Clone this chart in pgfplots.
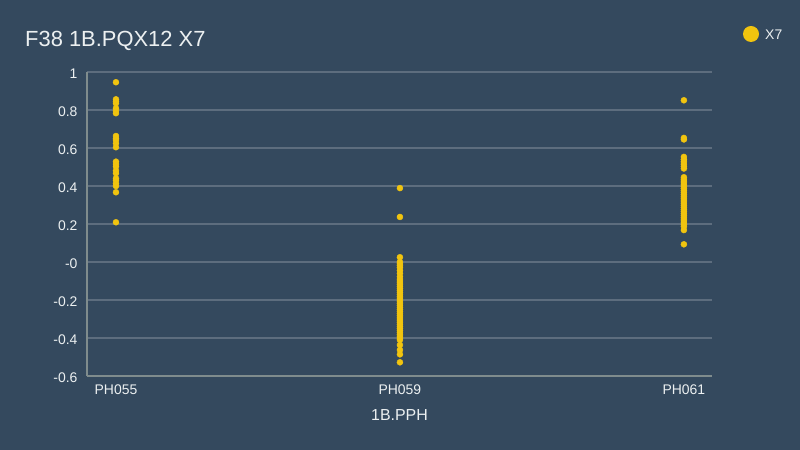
\documentclass[border=0pt]{standalone}
\usepackage{fontspec}
\setmainfont{Liberation Sans}
\usepackage{pgfplots}
\pgfplotsset{compat=1.18}
\usepackage{pgfplotstable}
\definecolor{bg}{HTML}{34495E}
\definecolor{gridc}{HTML}{5D6D7E}
\definecolor{axc}{HTML}{7F8C8D}
\definecolor{dot}{HTML}{F1C40F}
\definecolor{txt}{HTML}{ECF0F1}

\pgfplotstableread{
x y
0 0.946
0 0.856
0 0.845
0 0.835
0 0.809
0 0.795
0 0.783
0 0.663
0 0.650
0 0.642
0 0.625
0 0.604
0 0.528
0 0.515
0 0.502
0 0.480
0 0.467
0 0.440
0 0.430
0 0.414
0 0.400
0 0.367
0 0.209
}\dataA

\pgfplotstableread{
x y
1 0.389
1 0.237
1 0.025
1 0.000
1 -0.010
1 -0.020
1 -0.030
1 -0.045
1 -0.060
1 -0.077
1 -0.090
1 -0.100
1 -0.110
1 -0.120
1 -0.130
1 -0.140
1 -0.150
1 -0.160
1 -0.170
1 -0.180
1 -0.190
1 -0.200
1 -0.210
1 -0.220
1 -0.230
1 -0.240
1 -0.250
1 -0.260
1 -0.270
1 -0.280
1 -0.290
1 -0.300
1 -0.310
1 -0.320
1 -0.330
1 -0.340
1 -0.350
1 -0.360
1 -0.370
1 -0.380
1 -0.390
1 -0.400
1 -0.410
1 -0.437
1 -0.463
1 -0.486
1 -0.528
}\dataB

\pgfplotstableread{
x y
2 0.851
2 0.653
2 0.645
2 0.553
2 0.540
2 0.527
2 0.515
2 0.503
2 0.492
2 0.446
2 0.436
2 0.426
2 0.416
2 0.406
2 0.396
2 0.386
2 0.376
2 0.366
2 0.356
2 0.346
2 0.336
2 0.326
2 0.316
2 0.306
2 0.296
2 0.286
2 0.276
2 0.266
2 0.256
2 0.246
2 0.236
2 0.226
2 0.216
2 0.206
2 0.196
2 0.186
2 0.168
2 0.093
}\dataC

\begin{document}
\begin{tikzpicture}[x=1bp,y=1bp]
\fill[bg] (0,0) rectangle (800,450);
\begin{axis}[
  at={(87bp,74bp)}, anchor=south west,
  scale only axis,
  width=625bp, height=304bp,
  xmin=-0.102, xmax=2.099,
  ymin=-0.6, ymax=1,
  xtick={0,1,2},
  xticklabels={PH055,PH059,PH061},
  ytick={-0.6,-0.4,-0.2,0,0.2,0.4,0.6,0.8,1},
  yticklabels={-0.6,-0.4,-0.2,-0,0.2,0.4,0.6,0.8,1},
  axis x line*=bottom, axis y line*=left,
  axis line style={draw=axc, line width=1.5bp, -},
  ymajorgrids,
  major grid style={draw=gridc, line width=1.2bp},
  major tick length=0pt,
  tick label style={font=\fontsize{14}{16}\selectfont, text=txt},
  xticklabel style={yshift=-5bp},
  yticklabel style={xshift=-6bp, yshift=-2bp},
  xlabel={1B.PPH},
  xlabel style={font=\fontsize{16}{18}\selectfont, text=txt, yshift=-8bp},
  clip=false,
]
\addplot[only marks, mark=*, mark size=3bp, mark options={draw=dot, fill=dot}] table[x=x,y=y] {\dataA};
\addplot[only marks, mark=*, mark size=3bp, mark options={draw=dot, fill=dot}] table[x=x,y=y] {\dataB};
\addplot[only marks, mark=*, mark size=3bp, mark options={draw=dot, fill=dot}] table[x=x,y=y] {\dataC};
\end{axis}
\node[anchor=west, text=txt, font=\fontsize{22}{26}\selectfont, inner sep=0pt] at (25,409) {F38 1B.PQX12 X7};
\fill[dot] (751,416) circle (8);
\node[anchor=west, text=txt, font=\fontsize{14}{16}\selectfont, inner sep=0pt] at (765,415) {X7};
\end{tikzpicture}
\end{document}
